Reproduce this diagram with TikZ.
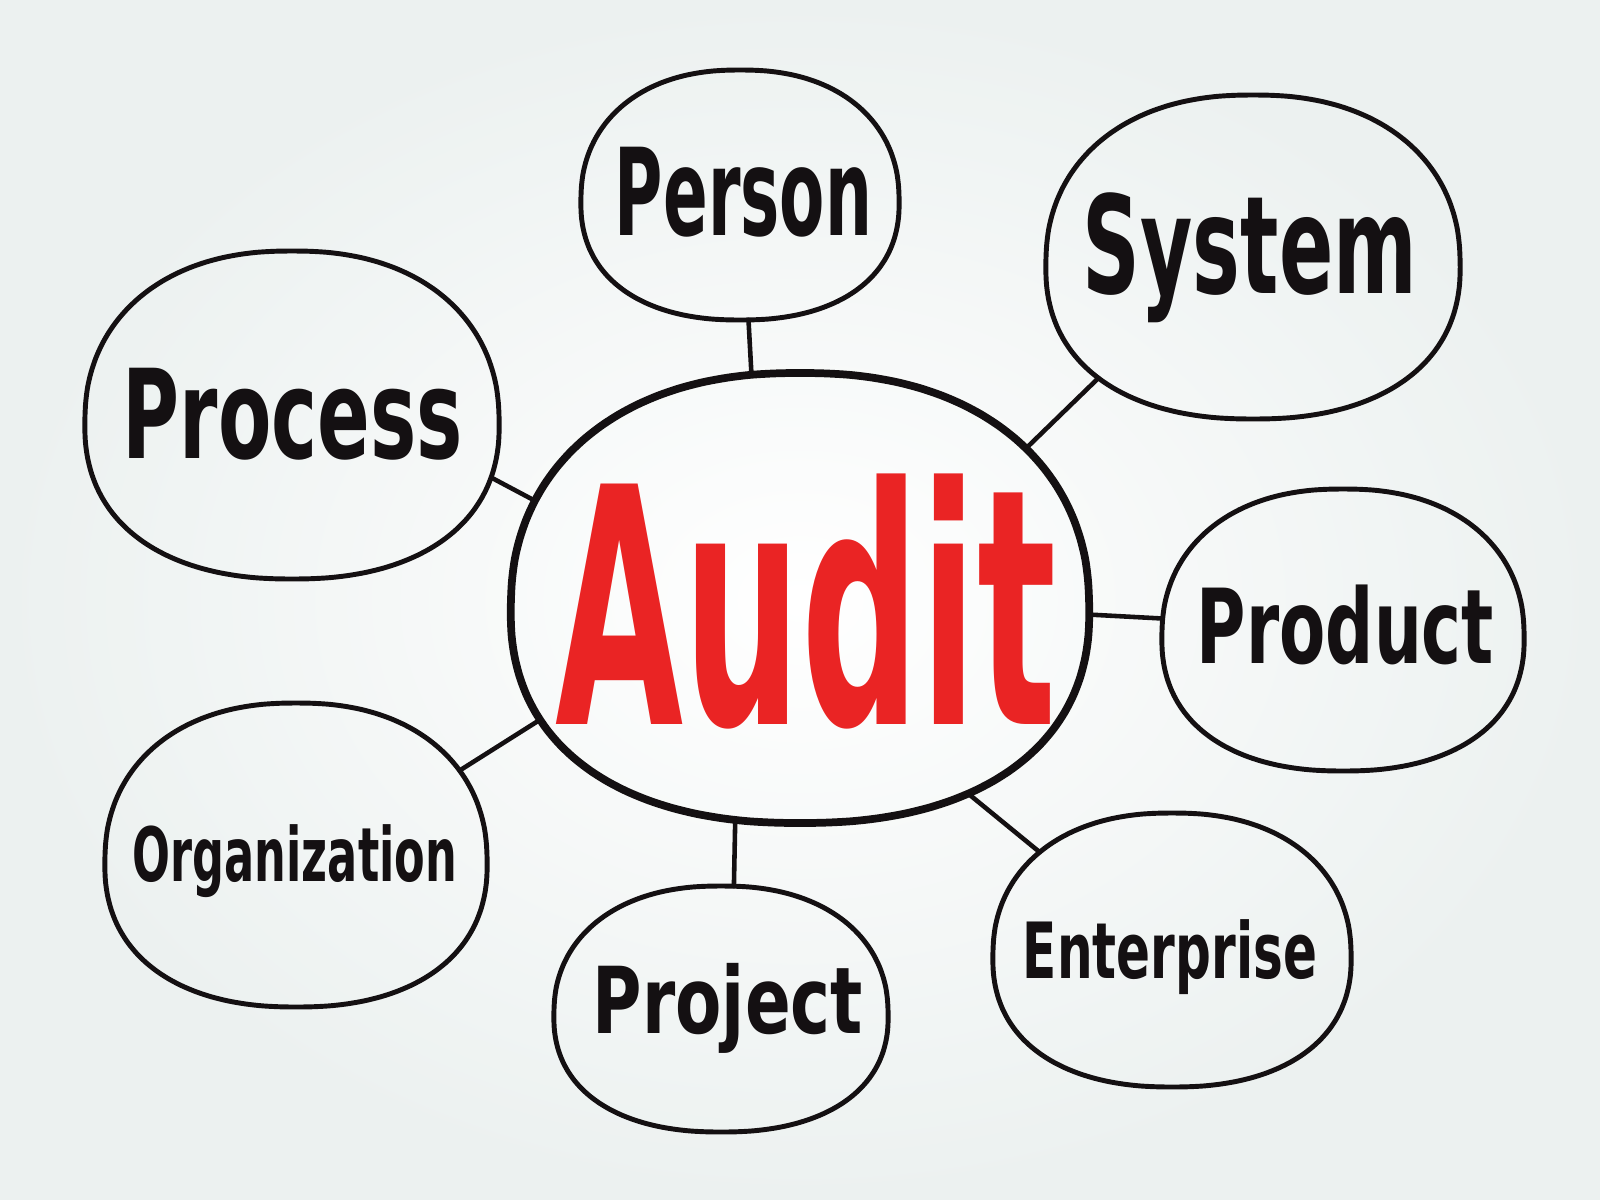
\documentclass[tikz,border=0pt]{standalone}
\usepackage{fontspec}
\usepackage{graphicx}
\usetikzlibrary{intersections}
\newfontfamily\handfont{DejaVu Sans}
\definecolor{bgedge}{RGB}{236,241,240}
\definecolor{auditred}{RGB}{234,36,36}
\definecolor{ink}{RGB}{20,16,18}
\tikzset{
  blobline/.style={draw=ink, line join=round, line cap=round},
  linkline/.style={draw=ink, line width=1.3pt, line cap=round},
  label/.style={inner sep=0pt, outer sep=0pt, anchor=center, text=ink},
}
% #1 path name, #2 cx, #3 cy, #4 rx, #5 ry, #6 line width
\newcommand\handblob[6]{%
  \begin{scope}[shift={(#2,#3)}, xscale=#4, yscale=#5]
    \draw[blobline, line width=#6, name path global=#1]
      plot[domain=2.5:357.5, samples=72, smooth cycle]
      ({sign(cos(\x))*abs(cos(\x))^0.88 + 0.02*sin(2*\x)},
       {sign(sin(\x))*abs(sin(\x))^0.88});
  \end{scope}}
% #1 width (cm), #2 total height (cm), #3 text
\newcommand\handtext[3]{\resizebox*{#1cm}{#2cm}{\handfont\bfseries #3}}
% #1 guide name, #2 start, #3 end, #4 blob A, #5 blob B, #6 coord on A, #7 coord on B
\newcommand\linkends[7]{%
  \path[name path=#1] #2 -- #3;
  \path[name intersections={of=#1 and #4, by=#6}];
  \path[name intersections={of=#1 and #5, by=#7}];}
\begin{document}
\begin{tikzpicture}[x=0.01cm, y=-0.01cm]
  \useasboundingbox (0,0) rectangle (1600,1200);
  \shade[inner color=white, outer color=bgedge] (0,0) rectangle (1600,1200);

  % blobs
  \handblob{bPerson}{740}{195}{159}{125}{1.4pt}
  \handblob{bSystem}{1253}{257}{207}{162}{1.4pt}
  \handblob{bProcess}{292}{415}{207}{164}{1.4pt}
  \handblob{bAudit}{800}{598}{289}{225}{2.2pt}
  \handblob{bProduct}{1343}{630}{181}{141}{1.4pt}
  \handblob{bOrganization}{296}{855}{191}{152}{1.4pt}
  \handblob{bProject}{721}{1009}{167}{123}{1.4pt}
  \handblob{bEnterprise}{1172}{950}{179}{137}{1.4pt}

  % labels
  \node[label] (person) at (743.5,192) {\handtext{2.57}{0.90}{Person}};
  \node[label] (system) at (1250,258) {\handtext{3.34}{1.30}{System}};
  \node[label] (process) at (293,414) {\handtext{3.40}{0.92}{Process}};
  \node[label, text=auditred] (audit) at (806,602) {\handtext{5.00}{2.55}{Audit}};
  \node[label] (product) at (1345.5,625) {\handtext{2.97}{0.80}{Product}};
  \node[label] (organization) at (295,861.5) {\handtext{3.24}{0.73}{Organization}};
  \node[label] (project) at (728,1008) {\handtext{2.70}{0.90}{Project}};
  \node[label] (enterprise) at (1170,957.5) {\handtext{2.94}{0.75}{Enterprise}};

  % connector end points where the connector lines meet the blob outlines
  \linkends{gPerson}{(747.4,300)}{(752.6,395)}{bPerson}{bAudit}{personS}{auditN}
  \linkends{gSystem}{(1120,357)}{(1009,465)}{bSystem}{bAudit}{systemSW}{auditNE}
  \linkends{gProcess}{(460,461)}{(560,514)}{bProcess}{bAudit}{processSE}{auditNW}
  \linkends{gProduct}{(1190,620)}{(1060,613)}{bProduct}{bAudit}{productW}{auditE}
  \linkends{gOrganization}{(440,783)}{(568,702)}{bOrganization}{bAudit}{organizationNE}{auditSW}
  \linkends{gProject}{(733.4,912)}{(735.6,800)}{bProject}{bAudit}{projectN}{auditS}
  \linkends{gEnterprise}{(1064,872)}{(938,769)}{bEnterprise}{bAudit}{enterpriseNW}{auditSE}

  % connectors
  \draw[linkline] (personS) -- (auditN);
  \draw[linkline] (systemSW) -- (auditNE);
  \draw[linkline] (processSE) -- (auditNW);
  \draw[linkline] (productW) -- (auditE);
  \draw[linkline] (organizationNE) -- (auditSW);
  \draw[linkline] (projectN) -- (auditS);
  \draw[linkline] (enterpriseNW) -- (auditSE);
\end{tikzpicture}
\end{document}
